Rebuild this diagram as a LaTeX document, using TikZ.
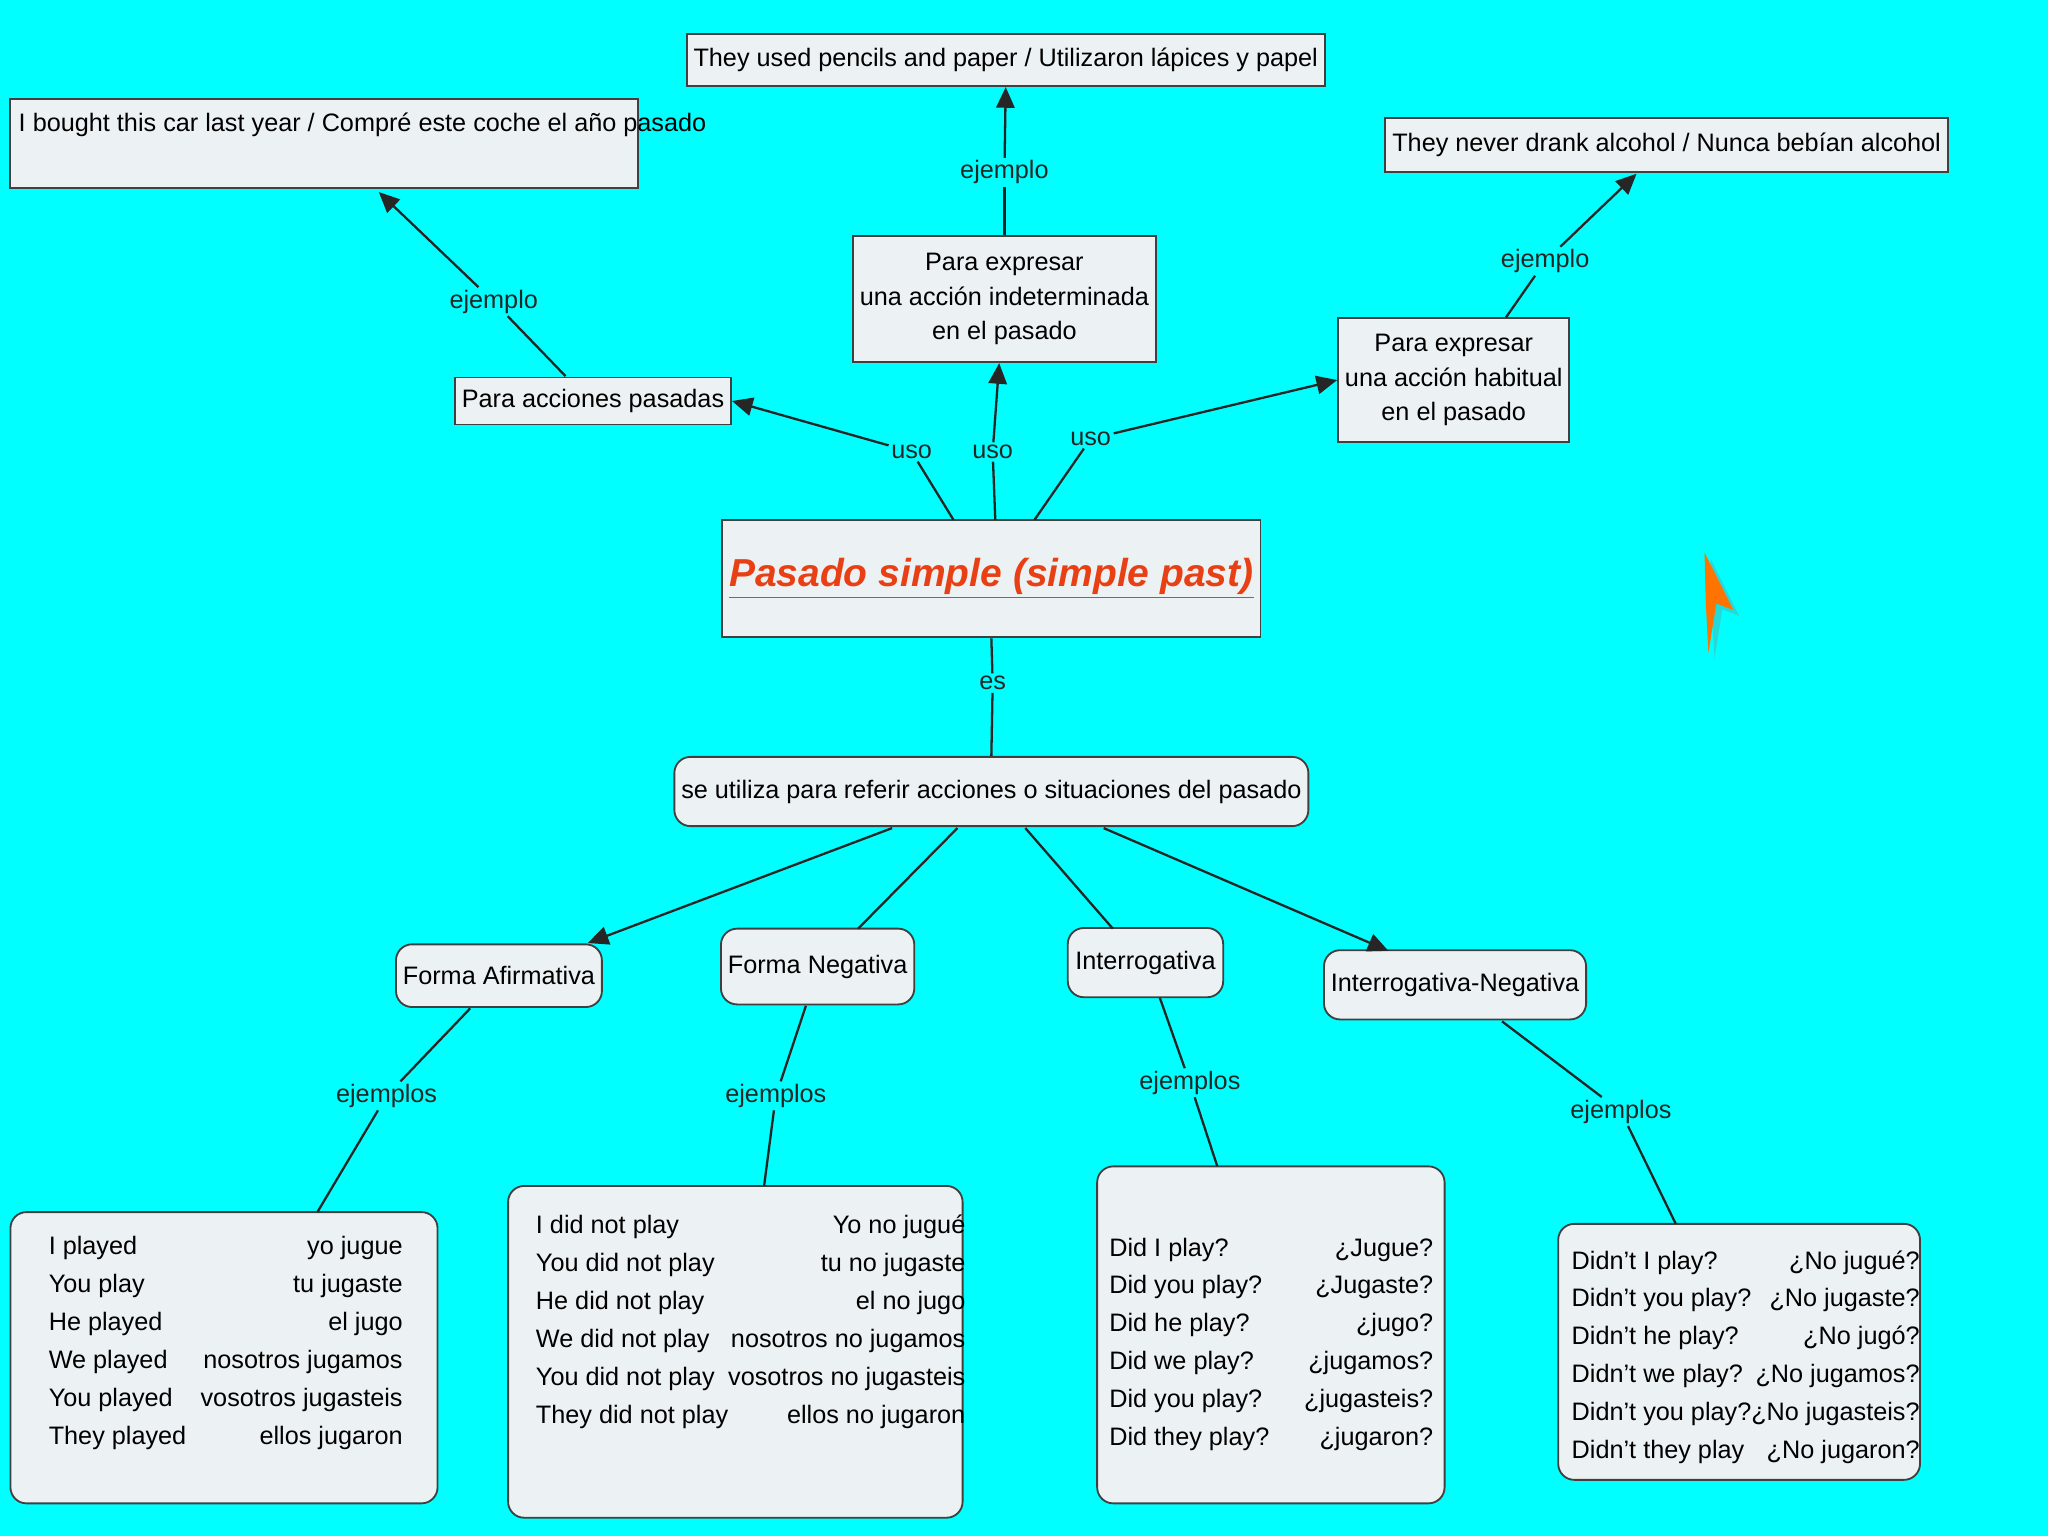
\documentclass[tikz,border=0pt]{standalone}
\usepackage{fontspec}
\setmainfont{Liberation Sans}
\usetikzlibrary{arrows.meta,shadows}
\definecolor{bg}{RGB}{0,255,255}
\definecolor{boxfill}{RGB}{236,242,243}
\definecolor{titlered}{RGB}{232,64,20}
\tikzset{
 sq/.style={draw=black!75,fill=boxfill,line width=0.8pt,inner sep=3pt,align=center,font=\fontsize{11}{15}\selectfont},
 rd/.style={sq,rounded corners=7pt},
 lab/.style={fill=bg,inner sep=1pt,font=\fontsize{11}{13}\selectfont,text=black!85},
 ln/.style={draw=black!85,line width=1pt},
 ar/.style={ln,-{Triangle[length=9pt,width=8pt]}},
 tab/.style={anchor=north west,inner sep=0pt,font=\fontsize{11}{16.5}\selectfont}
}
\begin{document}
\begin{tikzpicture}[x=0.02cm,y=-0.02cm]
\fill[bg] (0,0) rectangle (1568,1176);
\useasboundingbox (0,0) rectangle (1568,1176);
% boxes
\node[sq,minimum width=433*0.02cm,minimum height=40*0.02cm] (pen) at (770,46) {They used pencils and paper / Utilizaron lápices y papel};
\node[sq,minimum width=481*0.02cm,minimum height=68*0.02cm] (car) at (248,110) {};
\node[anchor=north west,font=\fontsize{11}{15}\selectfont,inner sep=0pt] (cartxt) at (14,86) {I bought this car last year / Compré este coche el año pasado};
\node[sq,minimum width=379*0.02cm,minimum height=41*0.02cm] (alc) at (1276,111) {They never drank alcohol / Nunca bebían alcohol};
\node[sq,minimum width=204*0.02cm,minimum height=96*0.02cm] (ind) at (769,229) {Para expresar\\una acción indeterminada\\en el pasado};
\node[sq,minimum width=178*0.02cm,minimum height=36*0.02cm] (pas) at (454,307) {Para acciones pasadas};
\node[sq,minimum width=162*0.02cm,minimum height=95*0.02cm] (hab) at (1113,291) {Para expresar\\una acción habitual\\en el pasado};
\node[sq,minimum width=378*0.02cm,minimum height=90*0.02cm,font=\fontsize{17}{20}\selectfont\bfseries\itshape,text=titlered] (main) at (759,443) {\underline{Pasado simple (simple past)}};
\node[rd,minimum width=443*0.02cm,minimum height=53*0.02cm] (se) at (759,606) {se utiliza para referir acciones o situaciones del pasado};
\node[rd,minimum width=157*0.02cm,minimum height=48*0.02cm] (afi) at (382,747) {Forma Afirmativa};
\node[rd,minimum width=144*0.02cm,minimum height=58*0.02cm] (neg) at (626,740) {Forma Negativa};
\node[rd,minimum width=119*0.02cm,minimum height=53*0.02cm] (int) at (877,737) {Interrogativa};
\node[rd,minimum width=191*0.02cm,minimum height=53*0.02cm] (inn) at (1114,754) {Interrogativa-Negativa};
\node[rd,minimum width=327*0.02cm,minimum height=223*0.02cm] (e1) at (171.5,1039.5) {};
\node[rd,minimum width=348*0.02cm,minimum height=254*0.02cm] (e2) at (563,1035) {};
\node[rd,minimum width=266*0.02cm,minimum height=258*0.02cm] (e3) at (973,1022) {};
\node[rd,minimum width=277*0.02cm,minimum height=196*0.02cm] (e4) at (1331.5,1035) {};
\node[tab] (t1) at (37,940) {\begin{tabular*}{5.42cm}{@{}l@{\extracolsep{\fill}}r@{}}
I played & yo jugue\\ You play & tu jugaste\\ He played & el jugo\\ We played & nosotros jugamos\\ You played & vosotros jugasteis\\ They played & ellos jugaron\end{tabular*}};
\node[tab] (t2) at (410,924) {\begin{tabular*}{6.1cm}{@{}l@{\extracolsep{\fill}}r@{}}
I did not play & Yo no jugué\\ You did not play & tu no jugaste\\ He did not play & el no jugo\\ We did not play & nosotros no jugamos\\ You did not play & vosotros no jugasteis\\ They did not play & ellos no jugaron\end{tabular*}};
\node[tab] (t3) at (849,941) {\begin{tabular*}{4.96cm}{@{}l@{\extracolsep{\fill}}r@{}}
Did I play? & ¿Jugue?\\ Did you play? & ¿Jugaste?\\ Did he play? & ¿jugo?\\ Did we play? & ¿jugamos?\\ Did you play? & ¿jugasteis?\\ Did they play? & ¿jugaron?\end{tabular*}};
\node[tab] (t4) at (1203,951) {\begin{tabular*}{5.12cm}{@{}l@{\extracolsep{\fill}}r@{}}
Didn't I play? & ¿No jugué?\\ Didn't you play? & ¿No jugaste?\\ Didn't he play? & ¿No jugó?\\ Didn't we play? & ¿No jugamos?\\ Didn't you play? & ¿No jugasteis?\\ Didn't they play & ¿No jugaron?\end{tabular*}};
% labels
\node[lab] (l1) at (378,231) {ejemplo};
\node[lab] (l2) at (769,132) {ejemplo};
\node[lab] (l3) at (1183,200) {ejemplo};
\node[lab] (u1) at (698,346) {uso};
\node[lab] (u2) at (760,346) {uso};
\node[lab] (u3) at (835,336) {uso};
\node[lab] (es) at (760,523) {es};
\node[lab] (x1) at (296,839) {ejemplos};
\node[lab] (x2) at (594,839) {ejemplos};
\node[lab] (x3) at (911,829) {ejemplos};
\node[lab] (x4) at (1241,851) {ejemplos};
% connectors
\coordinate (c1) at (433,288); \coordinate (c2) at (290,147);
\draw[ln] (c1) -- (l1); \draw[ar] (l1) -- (c2);
\draw[ln] (ind.north) -- (l2); \draw[ar] (l2) -- (pen.south);
\coordinate (c3) at (1153,243); \coordinate (c4) at (1253,133);
\draw[ln] (c3) -- (l3); \draw[ar] (l3) -- (c4);
\coordinate (m1) at (730,398); \coordinate (m2) at (762,398); \coordinate (m3) at (792,398);
\draw[ln] (m1) -- (u1); \draw[ar] (u1) -- (pas.east);
\draw[ln] (m2) -- (u2); \draw[ar] (u2) -- (765,278);
\draw[ln] (m3) -- (u3); \draw[ar] (u3) -- (hab.west);
\draw[ln] (main.south) -- (es) -- (se.north);
\coordinate (s1) at (683,634); \coordinate (s2) at (733,634); \coordinate (s3) at (785,634); \coordinate (s4) at (845,634);
\coordinate (a1) at (450,722); \coordinate (a2) at (657,711); \coordinate (a3) at (852,711); \coordinate (a4) at (1063,728);
\draw[ar] (s1) -- (a1); \draw[ln] (s2) -- (a2); \draw[ln] (s3) -- (a3); \draw[ar] (s4) -- (a4);
\coordinate (f1) at (360,772); \coordinate (g1) at (243,928);
\coordinate (f2) at (617,770); \coordinate (g2) at (585,908);
\coordinate (f3) at (888,764); \coordinate (g3) at (932,893);
\coordinate (f4) at (1150,782); \coordinate (g4) at (1283,937);
\draw[ln] (f1) -- (x1) -- (g1);
\draw[ln] (f2) -- (x2) -- (g2);
\draw[ln] (f3) -- (x3) -- (g3);
\draw[ln] (f4) -- (x4) -- (g4);
% cursor
\fill[orange!90!red,drop shadow={opacity=0.3}] (1305,423) -- (1327,467) -- (1314,462) -- (1308,500) -- (1306,462) -- cycle;
\end{tikzpicture}
\end{document}
